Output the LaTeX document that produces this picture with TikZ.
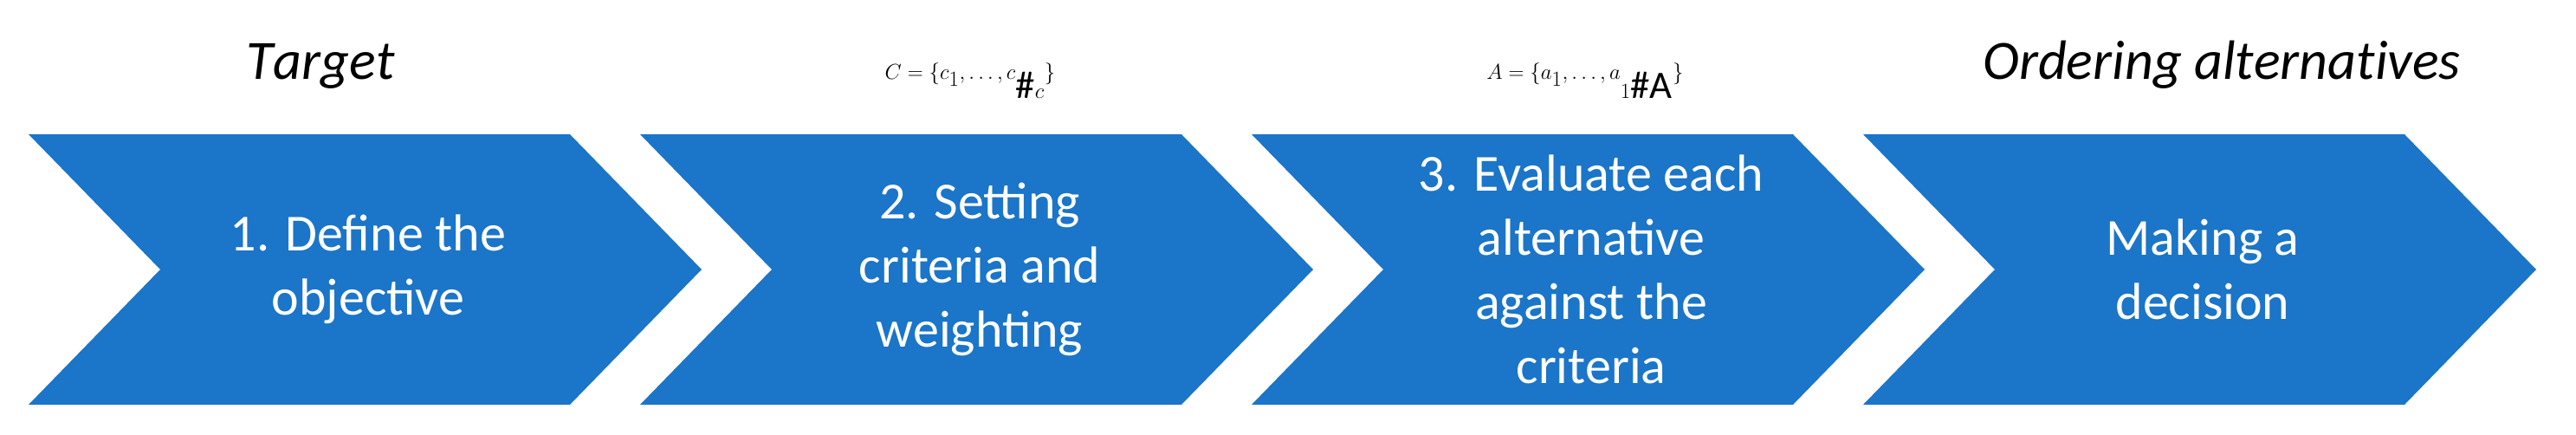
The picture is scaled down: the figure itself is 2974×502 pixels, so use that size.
\documentclass[tikz,border=0pt]{standalone}
\usepackage{fontspec}
\setmainfont{Carlito}
\newfontfamily\capfont{Liberation Serif}
\definecolor{chev}{RGB}{27,117,200}
\tikzset{
  chevshape/.style={fill=chev, draw=none},
  chevtext/.style={text=white, align=center, font=\fontsize{60}{74}\selectfont, inner sep=0pt},
  toplabel/.style={font=\fontsize{64}{70}\selectfont, anchor=base, inner sep=0pt}
}
\begin{document}
\begin{tikzpicture}[x=1pt,y=-1pt]
\useasboundingbox (0,0) rectangle (2974,502);
\foreach \s/\n in {33/1,739/2,1445/3,2151/4}{
  \fill[chevshape] (\s,155) -- ({\s+625},155) -- ({\s+777},311) -- ({\s+625},467) -- (\s,467) -- ({\s+152},311) -- cycle;
}
\node[chevtext] (t1) at (425,311) {1. Define the\\objective};
\node[chevtext] (t2) at (1131,311) {2. Setting\\criteria and\\weighting};
\node[chevtext] (t3) at (1837,311) {3. Evaluate each\\alternative\\against the\\criteria};
\node[chevtext] (t4) at (2543,311) {Making a\\decision};
\node[toplabel] (l1) at (370,92) {$\mathit{Target}$};
\node[toplabel] (l2) at (1120,92) {$C=\{c_1,\ldots,c_{\#c}\}$};
\node[toplabel] (l3) at (1830,92) {$A=\{a_1,\ldots,a_{1\#\mathrm{A}}\}$};
\node[toplabel] (l4) at (2565,92) {$\mathit{Ordering\ alternatives}$};
\end{tikzpicture}
\end{document}
